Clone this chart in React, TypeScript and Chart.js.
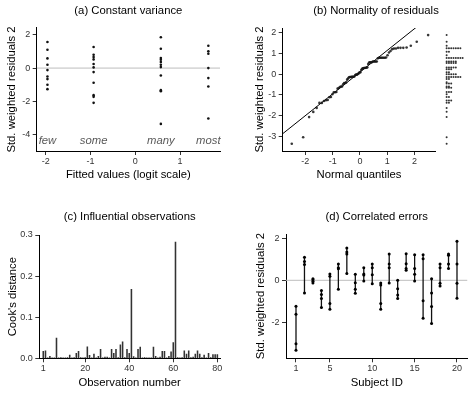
import React, { useEffect, useRef } from "react";
import { Chart, registerables } from "chart.js";

Chart.register(...registerables);

const FONT = "'Liberation Sans', Arial, Helvetica, sans-serif";
Chart.defaults.font.family = FONT;

// ---------------- Panel (a): constant variance ----------------
const A_GROUPS = ["few", "some", "many", "most"];
const A_GROUP_X = [-1.96, -0.93, 0.57, 1.63];
const A_FEW = [1.56, 1.1, 0.58, 0.2, -0.12, -0.5, -0.66, -1.0, -1.26];
const A_SOME = [1.26, 0.8, 0.66, 0.52, 0.24, 0.04, -0.24, -0.88, -1.62, -1.72, -2.08];
const A_MANY = [1.84, 1.16, 0.6, 0.5, 0.36, 0.2, 0.06, -0.44, -1.32, -1.38, -3.34];
const A_MOST = [1.34, 1.0, 0.86, 0.0, -0.6, -1.1, -3.02];
const A_LABEL_Y = -4.36;
const A_X_RANGE = [-2.2, 1.89];
const A_Y_RANGE = [-4.96, 2.4];
const A_X_TICKS = [-2, -1, 0, 1];
const A_Y_TICKS = [-4, -2, 0, 2];

// ---------------- Residuals by subject (panels b, d) ----------------
const SUBJECT_IDS = [1, 2, 3, 4, 5, 6, 7, 8, 9, 10, 11, 12, 13, 14, 15, 16, 17, 18, 19, 20];
const SUBJECT_RESIDUALS = [
  [-1.24, -1.62, -3.02, -3.33],
  [1.1, 0.9, 0.75, -0.6],
  [0.08, 0.03, -0.05, -0.13],
  [-0.49, -0.67, -0.87, -1.29],
  [0.3, 0.19, -1.11, -1.38],
  [0.78, 0.6, 0.55, -0.43],
  [1.54, 1.35, 1.25, 0.32],
  [0.29, -0.12, -0.43, -0.62],
  [0.6, 0.3, 0.25, -0.03],
  [0.78, 0.6, 0.27, -0.16],
  [-0.13, -0.22, -1.1, -1.38],
  [1.25, 0.78, 0.6, -0.13],
  [0.0, -0.4, -0.7, -0.87],
  [1.27, 0.79, 0.56, 0.48],
  [1.22, 0.56, 0.29, -0.03],
  [1.22, 1.03, -0.97, -1.81],
  [0.08, -0.6, -1.25, -2.06],
  [0.78, 0.6, -0.14, -0.27],
  [1.25, 1.19, 0.78, 0.56],
  [1.86, 0.78, -0.14, -0.86],
];

// ---------------- Panel (b): normality ----------------
const B_X_RANGE = [-2.83, 2.76];
const B_Y_RANGE = [-3.68, 2.2];
const B_X_TICKS = [-2, -1, 0, 1, 2];
const B_Y_TICKS = [-3, -2, -1, 0, 1, 2];
const QQ_LINE_INTERCEPT = 0.09;
const QQ_LINE_SLOPE = 1.04;
const MARGIN_BINWIDTH = 0.085;

// ---------------- Panel (c): Cook's distance ----------------
const COOKS = [
  0.017, 0.018, 0.001, 0.005, 0.001, 0.001, 0.049, 0.001, 0.002, 0.001,
  0.001, 0.002, 0.008, 0.001, 0.002, 0.012, 0.017, 0.002, 0.001, 0.002,
  0.028, 0.007, 0.001, 0.01, 0.001, 0.005, 0.022, 0.001, 0.003, 0.003,
  0.001, 0.022, 0.012, 0.022, 0.002, 0.033, 0.04, 0.002, 0.022, 0.012,
  0.168, 0.004, 0.001, 0.022, 0.027, 0.001, 0.002, 0.001, 0.001, 0.001,
  0.027, 0.005, 0.001, 0.003, 0.017, 0.017, 0.001, 0.005, 0.016, 0.038,
  0.283, 0.002, 0.001, 0.002, 0.018, 0.01, 0.018, 0.002, 0.003, 0.01,
  0.018, 0.01, 0.002, 0.008, 0.001, 0.012, 0.002, 0.009, 0.009, 0.009,
];
const C_X_RANGE = [-0.8, 81.2];
const C_Y_RANGE = [0, 0.3];
const C_X_TICKS = [1, 20, 40, 60, 80];
const C_Y_TICKS = [0, 0.1, 0.2, 0.3];

// ---------------- Panel (d): correlated errors ----------------
const D_X_RANGE = [-0.18, 21.24];
const D_Y_RANGE = [-3.714, 2.205];
const D_X_TICKS = [1, 5, 10, 15, 20];
const D_Y_TICKS = [-2, 0, 2];

// ---------------- helpers ----------------
function qnorm(p: number): number {
  const a = [-39.69683028665376, 220.9460984245205, -275.9285104469687, 138.357751867269, -30.66479806614716, 2.506628277459239];
  const b = [-54.47609879822406, 161.5858368580409, -155.6989798598866, 66.80131188771972, -13.28068155288572];
  const c = [-0.007784894002430293, -0.3223964580411365, -2.400758277161838, -2.549732539343734, 4.374664141464968, 2.938163982698783];
  const d = [0.007784695709041462, 0.3224671290700398, 2.445134137142996, 3.754408661907416];
  const pl = 0.02425;
  if (p < pl) {
    const q = Math.sqrt(-2 * Math.log(p));
    return (((((c[0] * q + c[1]) * q + c[2]) * q + c[3]) * q + c[4]) * q + c[5]) / ((((d[0] * q + d[1]) * q + d[2]) * q + d[3]) * q + 1);
  }
  if (p > 1 - pl) {
    const q = Math.sqrt(-2 * Math.log(1 - p));
    return -(((((c[0] * q + c[1]) * q + c[2]) * q + c[3]) * q + c[4]) * q + c[5]) / ((((d[0] * q + d[1]) * q + d[2]) * q + d[3]) * q + 1);
  }
  const q = p - 0.5;
  const r = q * q;
  return ((((((a[0] * r + a[1]) * r + a[2]) * r + a[3]) * r + a[4]) * r + a[5]) * q) / (((((b[0] * r + b[1]) * r + b[2]) * r + b[3]) * r + b[4]) * r + 1);
}

function dotBins(values: number[], bw: number) {
  const s = [...values].sort((x, y) => x - y);
  const bins: { y: number; n: number }[] = [];
  let i = 0;
  while (i < s.length) {
    const start = s[i];
    let j = i;
    while (j < s.length && s[j] <= start + bw) j++;
    bins.push({ y: (s[i] + s[j - 1]) / 2, n: j - i });
    i = j;
  }
  return bins;
}

type AxisSpec = {
  range: number[];
  ticks: number[];
  size: number;
  title: string;
  titlePad: { top?: number; bottom?: number };
  tickPad: number;
  fmt?: (v: number) => string;
};

function axis(kind: "x" | "y", s: AxisSpec): any {
  const tickOpts: any = {
    color: "#333",
    font: { size: 9, family: FONT },
    padding: s.tickPad,
    maxRotation: 0,
    minRotation: 0,
    autoSkip: false,
  };
  if (s.fmt) tickOpts.callback = (v: any) => s.fmt!(Number(v));
  return {
    type: "linear",
    min: s.range[0],
    max: s.range[1],
    offset: false,
    afterBuildTicks: (sc: any) => {
      sc.ticks = s.ticks.map((v) => ({ value: v }));
    },
    afterFit: (sc: any) => {
      if (kind === "x") sc.height = s.size;
      else sc.width = s.size;
    },
    grid: {
      display: true,
      drawOnChartArea: false,
      drawTicks: true,
      tickLength: 4,
      tickWidth: 1,
      tickColor: "#333",
      offset: false,
    },
    border: { display: true, color: "#000", width: 1 },
    ticks: tickOpts,
    title: {
      display: true,
      text: s.title,
      color: "#000",
      font: { size: 11.3, family: FONT },
      padding: s.titlePad,
    },
  };
}

function hidden(range: number[]): any {
  return { type: "linear", display: false, min: range[0], max: range[1] };
}

function titleOpt(text: string, top: number, bottom: number): any {
  return {
    display: true,
    text,
    color: "#000",
    font: { size: 11.3, weight: "normal", family: FONT },
    padding: { top, bottom },
    fullSize: false,
  };
}

function baseOptions(padding: any, title: any, scales: any): any {
  return {
    responsive: false,
    maintainAspectRatio: false,
    animation: false,
    devicePixelRatio: 1,
    events: [],
    layout: { padding },
    plugins: {
      legend: { display: false },
      tooltip: { enabled: false },
      title: title || { display: false },
    },
    scales,
  };
}

const groupLabelPlugin = {
  id: "groupLabels",
  afterDatasetsDraw(chart: any) {
    const { ctx, scales } = chart;
    ctx.save();
    ctx.font = `italic 11.3px ${FONT}`;
    ctx.fillStyle = "#595959";
    ctx.textAlign = "center";
    ctx.textBaseline = "middle";
    A_GROUPS.forEach((name, i) => {
      ctx.fillText(name, scales.x.getPixelForValue(A_GROUP_X[i]), scales.y.getPixelForValue(A_LABEL_Y));
    });
    ctx.restore();
  },
};

// ---------------- chart configs ----------------
function configA(): any {
  const groups = [A_FEW, A_SOME, A_MANY, A_MOST];
  return {
    type: "scatter",
    data: {
      datasets: [
        {
          type: "line",
          data: [
            { x: A_X_RANGE[0], y: 0 },
            { x: A_X_RANGE[1], y: 0 },
          ],
          borderColor: "#bdbdbd",
          borderWidth: 1,
          pointRadius: 0,
          order: 2,
        },
        ...groups.map((vals, g) => ({
          data: vals.map((y) => ({ x: A_GROUP_X[g], y })),
          pointRadius: 1.3,
          pointBorderWidth: 0,
          backgroundColor: "#111",
          borderColor: "#111",
          order: 0,
        })),
      ],
    },
    options: baseOptions(
      { top: 0, left: 0, right: 17, bottom: 0 },
      titleOpt("(a) Constant variance", 4.2, 10.2),
      {
        x: axis("x", { range: A_X_RANGE, ticks: A_X_TICKS, size: 46, title: "Fitted values (logit scale)", titlePad: { top: 0, bottom: 15.2 }, tickPad: 1.1 }),
        y: axis("y", { range: A_Y_RANGE, ticks: A_Y_TICKS, size: 36.7, title: "Std. weighted residuals 2", titlePad: { top: 5.2, bottom: 0 }, tickPad: 2.5 }),
      }
    ),
    plugins: [groupLabelPlugin],
  };
}

function allResiduals(): number[] {
  return SUBJECT_RESIDUALS.flat();
}

function configBMain(): any {
  const sorted = [...allResiduals()].sort((p, q) => p - q);
  const n = sorted.length;
  const qq = sorted.map((y, i) => ({ x: qnorm((i + 0.5) / n), y }));
  const lineX = [B_X_RANGE[0] - 0.2, B_X_RANGE[1] + 0.2];
  return {
    type: "scatter",
    data: {
      datasets: [
        {
          data: qq,
          pointRadius: 1.3,
          pointBorderWidth: 0,
          backgroundColor: "rgba(20,20,20,0.85)",
          borderColor: "rgba(20,20,20,0.85)",
          order: 0,
        },
        {
          type: "line",
          data: lineX.map((x) => ({ x, y: QQ_LINE_INTERCEPT + QQ_LINE_SLOPE * x })),
          borderColor: "#000",
          borderWidth: 1,
          pointRadius: 0,
          order: 1,
        },
      ],
    },
    options: baseOptions(
      { top: 28, left: 0, right: 38.7, bottom: 0 },
      null,
      {
        x: axis("x", { range: B_X_RANGE, ticks: B_X_TICKS, size: 46, title: "Normal quantiles", titlePad: { top: 0, bottom: 15.2 }, tickPad: 1.1 }),
        y: axis("y", { range: B_Y_RANGE, ticks: B_Y_TICKS, size: 45.7, title: "Std. weighted residuals 2", titlePad: { top: 16.5, bottom: 0 }, tickPad: 2.5 }),
      }
    ),
  };
}

function configBMargin(): any {
  const bins = dotBins(allResiduals(), MARGIN_BINWIDTH);
  const dots = bins.flatMap((b) => Array.from({ length: b.n }, (_, k) => ({ x: k, y: b.y })));
  // marginal x scale: dot index, 2.3 px per dot starting at the right of the panel
  const areaW = 468 - 282.7;
  const start = (446.5 - 282.7) / 2.3;
  return {
    type: "scatter",
    data: {
      datasets: [
        {
          data: dots,
          pointRadius: 1.0,
          pointBorderWidth: 0,
          backgroundColor: "#333",
          borderColor: "#333",
          clip: false,
        },
      ],
    },
    options: baseOptions(
      { top: 0, left: 2.7, right: 6, bottom: 46 },
      titleOpt("(b) Normality of residuals", 4.2, 10.2),
      {
        x: hidden([-start, -start + areaW / 2.3]),
        y: hidden(B_Y_RANGE),
      }
    ),
  };
}

function configC(): any {
  return {
    type: "bar",
    data: {
      datasets: [
        {
          data: COOKS.map((v, i) => ({ x: i + 1, y: v })),
          backgroundColor: "#333",
          borderWidth: 0,
          barThickness: 0.9,
        },
      ],
    },
    options: baseOptions(
      { top: 0, left: 0, right: 17, bottom: 0 },
      titleOpt("(c) Influential observations", 13.2, 11.24),
      {
        x: axis("x", { range: C_X_RANGE, ticks: C_X_TICKS, size: 36.7, title: "Observation number", titlePad: { top: 0, bottom: 5.5 }, tickPad: 1.1 }),
        y: axis("y", { range: C_Y_RANGE, ticks: C_Y_TICKS, size: 39.3, title: "Cook's distance", titlePad: { top: 5.7, bottom: 0 }, tickPad: 2.5, fmt: (v) => v.toFixed(1) }),
      }
    ),
  };
}

function configD(): any {
  const segs: any[] = [];
  SUBJECT_IDS.forEach((id, i) => {
    const vals = SUBJECT_RESIDUALS[i];
    segs.push({ x: id, y: Math.min(...vals) });
    segs.push({ x: id, y: Math.max(...vals) });
    segs.push({ x: id, y: null });
  });
  const pts = SUBJECT_IDS.flatMap((id, i) => SUBJECT_RESIDUALS[i].map((y) => ({ x: id, y })));
  return {
    type: "scatter",
    data: {
      datasets: [
        {
          type: "line",
          data: [
            { x: D_X_RANGE[0], y: 0 },
            { x: D_X_RANGE[1], y: 0 },
          ],
          borderColor: "#bdbdbd",
          borderWidth: 1,
          pointRadius: 0,
          order: 2,
        },
        {
          type: "line",
          data: segs,
          borderColor: "#111",
          borderWidth: 1.3,
          pointRadius: 0,
          spanGaps: false,
          order: 1,
        },
        {
          data: pts,
          pointRadius: 1.5,
          pointBorderWidth: 0,
          backgroundColor: "#000",
          borderColor: "#000",
          order: 0,
        },
      ],
    },
    options: baseOptions(
      { top: 0, left: 0, right: 6.5, bottom: 0 },
      titleOpt("(d) Correlated errors", 13.2, 10.24),
      {
        x: axis("x", { range: D_X_RANGE, ticks: D_X_TICKS, size: 36.7, title: "Subject ID", titlePad: { top: 0, bottom: 5.5 }, tickPad: 1.1 }),
        y: axis("y", { range: D_Y_RANGE, ticks: D_Y_TICKS, size: 49, title: "Std. weighted residuals 2", titlePad: { top: 17.2, bottom: 0 }, tickPad: 2.5 }),
      }
    ),
  };
}

function Panel(props: { left: number; top: number; width: number; height: number; make: () => any }) {
  const ref = useRef<HTMLCanvasElement>(null);
  useEffect(() => {
    const chart = new Chart(ref.current as HTMLCanvasElement, props.make());
    return () => chart.destroy();
  }, []);
  return (
    <canvas
      ref={ref}
      width={props.width}
      height={props.height}
      style={{ position: "absolute", left: props.left, top: props.top, width: props.width, height: props.height }}
    />
  );
}

export default function App() {
  return (
    <div style={{ position: "fixed", left: 0, top: 0, width: 474, height: 395, overflow: "hidden", background: "#fff" }}>
      <Panel left={0} top={0} width={237} height={197} make={configA} />
      <Panel left={237} top={0} width={237} height={197} make={configBMain} />
      <Panel left={280} top={0} width={194} height={197} make={configBMargin} />
      <Panel left={0} top={197} width={237} height={198} make={configC} />
      <Panel left={237} top={197} width={237} height={198} make={configD} />
    </div>
  );
}
